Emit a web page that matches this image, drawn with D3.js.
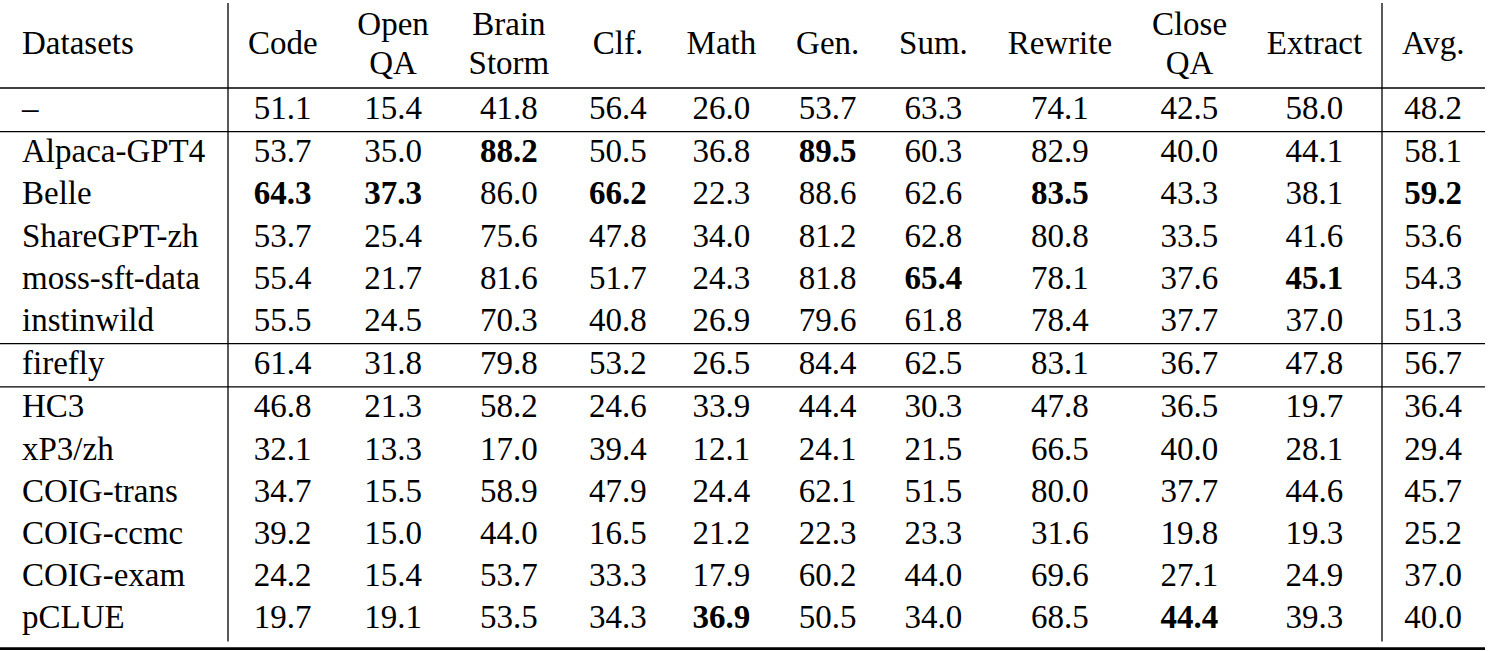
<!DOCTYPE html>
<html>
<head>
<meta charset="utf-8">
<script src="https://cdn.jsdelivr.net/npm/d3@7"></script>
<style>
  html, body { margin: 0; padding: 0; background: #fff; }
  svg { display: block; }
  text { font-family: "Liberation Serif", "Times New Roman", serif; fill: #000; }
</style>
</head>
<body>
<svg id="chart" width="1488" height="651"></svg>
<script>
// ---------------- data ----------------
const datasets = ["–", "Alpaca-GPT4", "Belle", "ShareGPT-zh", "moss-sft-data", "instinwild",
  "firefly", "HC3", "xP3/zh", "COIG-trans", "COIG-ccmc", "COIG-exam", "pCLUE"];
// section each dataset belongs to (a rule separates sections)
const sections = [0, 1, 1, 1, 1, 1, 2, 3, 3, 3, 3, 3, 3];
// sections whose best value per column is set in bold
const rankedSections = [1, 3];

const columns = ["Code", "Open QA", "Brain Storm", "Clf.", "Math", "Gen.", "Sum.", "Rewrite", "Close QA", "Extract", "Avg."];
const headerLines = [["Code"], ["Open", "QA"], ["Brain", "Storm"], ["Clf."], ["Math"], ["Gen."],
  ["Sum."], ["Rewrite"], ["Close", "QA"], ["Extract"], ["Avg."]];
const firstHeader = "Datasets";

const code       = [51.1, 53.7, 64.3, 53.7, 55.4, 55.5, 61.4, 46.8, 32.1, 34.7, 39.2, 24.2, 19.7];
const openQA     = [15.4, 35.0, 37.3, 25.4, 21.7, 24.5, 31.8, 21.3, 13.3, 15.5, 15.0, 15.4, 19.1];
const brainStorm = [41.8, 88.2, 86.0, 75.6, 81.6, 70.3, 79.8, 58.2, 17.0, 58.9, 44.0, 53.7, 53.5];
const clf        = [56.4, 50.5, 66.2, 47.8, 51.7, 40.8, 53.2, 24.6, 39.4, 47.9, 16.5, 33.3, 34.3];
const math       = [26.0, 36.8, 22.3, 34.0, 24.3, 26.9, 26.5, 33.9, 12.1, 24.4, 21.2, 17.9, 36.9];
const gen        = [53.7, 89.5, 88.6, 81.2, 81.8, 79.6, 84.4, 44.4, 24.1, 62.1, 22.3, 60.2, 50.5];
const sum        = [63.3, 60.3, 62.6, 62.8, 65.4, 61.8, 62.5, 30.3, 21.5, 51.5, 23.3, 44.0, 34.0];
const rewrite    = [74.1, 82.9, 83.5, 80.8, 78.1, 78.4, 83.1, 47.8, 66.5, 80.0, 31.6, 69.6, 68.5];
const closeQA    = [42.5, 40.0, 43.3, 33.5, 37.6, 37.7, 36.7, 36.5, 40.0, 37.7, 19.8, 27.1, 44.4];
const extract    = [58.0, 44.1, 38.1, 41.6, 45.1, 37.0, 47.8, 19.7, 28.1, 44.6, 19.3, 24.9, 39.3];
const avg        = [48.2, 58.1, 59.2, 53.6, 54.3, 51.3, 56.7, 36.4, 29.4, 45.7, 25.2, 37.0, 40.0];

const series = [code, openQA, brainStorm, clf, math, gen, sum, rewrite, closeQA, extract, avg];

// ---------------- layout ----------------
const FONT = 33;
const nameX = 22;          // left edge of dataset names
const vLine1 = 228;        // rule after dataset column
const vLine2 = 1382;       // rule before Avg. column
const ruleLeft = 0, ruleRight = 1485;
const headerTop = 3, headerBottom = 88;
const rowPitch = 42.2, baselineOffset = 30, lineGap = 1;

const svg = d3.select("#chart");

// measure text widths
const meas = svg.append("text").attr("font-size", FONT).attr("visibility", "hidden");
function tw(s, bold) {
  meas.attr("font-weight", bold ? "bold" : "normal").text(s);
  return meas.node().getComputedTextLength();
}
const colContent = columns.map((c, j) => {
  const hw = d3.max(headerLines[j], l => tw(l));
  const nw = d3.max(series[j], v => tw(v.toFixed(1), true));
  return Math.max(hw, nw);
});
meas.remove();

const mid = colContent.slice(0, 10);
const pad = (vLine2 - vLine1 - d3.sum(mid)) / (2 * mid.length);
let acc = vLine1;
const centers = [];
mid.forEach(w => { centers.push(acc + pad + w / 2); acc += w + 2 * pad; });
centers.push(vLine2 + pad + colContent[10] / 2);

const x = d3.scaleOrdinal().domain(columns).range(centers);

// rows: index -> top of row, accounting for separating rules
const yIndex = d3.scaleLinear().domain([0, 1]).range([headerBottom + 1, headerBottom + 1 + rowPitch]);
const rowTop = i => yIndex(i) + lineGap * sections[i];
const baseline = i => rowTop(i) + baselineOffset;

// bold = best within ranked sections
const bestIdx = series.map(vals => {
  let bi = -1, bv = -Infinity;
  vals.forEach((v, i) => { if (rankedSections.includes(sections[i]) && v > bv) { bv = v; bi = i; } });
  return bi;
});

// ---------------- rules ----------------
const g = svg.append("g");
const hRules = [headerBottom];
for (let i = 1; i < datasets.length; i++) {
  if (sections[i] !== sections[i - 1]) hRules.push(rowTop(i) - 0.5);
}
g.selectAll("line.h").data(hRules).join("line")
  .attr("x1", ruleLeft).attr("x2", ruleRight)
  .attr("y1", d => d).attr("y2", d => d)
  .attr("stroke", "#000").attr("stroke-width", 1.3);

const lastBottom = rowTop(datasets.length - 1) + rowPitch;
g.selectAll("line.v").data([vLine1, vLine2]).join("line")
  .attr("x1", d => d).attr("x2", d => d)
  .attr("y1", headerTop).attr("y2", lastBottom + 1)
  .attr("stroke", "#000").attr("stroke-width", 1.3);

g.append("line")
  .attr("x1", ruleLeft).attr("x2", ruleRight)
  .attr("y1", lastBottom + 8).attr("y2", lastBottom + 8)
  .attr("stroke", "#000").attr("stroke-width", 2.8);

// ---------------- header ----------------
const hb1 = 54;                 // single-line baseline
const hbTwo = [34.5, 73.5];     // two-line baselines
svg.append("text").attr("x", nameX).attr("y", hb1).attr("font-size", FONT).text(firstHeader);
columns.forEach((c, j) => {
  const lines = headerLines[j];
  lines.forEach((l, k) => {
    svg.append("text")
      .attr("x", x(c)).attr("y", lines.length === 1 ? hb1 : hbTwo[k])
      .attr("text-anchor", "middle").attr("font-size", FONT).text(l);
  });
});

// ---------------- body ----------------
svg.append("g").selectAll("text").data(datasets).join("text")
  .attr("x", nameX).attr("y", (d, i) => baseline(i))
  .attr("font-size", FONT).text(d => d);

columns.forEach((c, j) => {
  svg.append("g").selectAll("text").data(series[j]).join("text")
    .attr("x", x(c)).attr("y", (d, i) => baseline(i))
    .attr("text-anchor", "middle").attr("font-size", FONT)
    .attr("font-weight", (d, i) => i === bestIdx[j] ? "bold" : "normal")
    .text(d => d.toFixed(1));
});
</script>
</body>
</html>
